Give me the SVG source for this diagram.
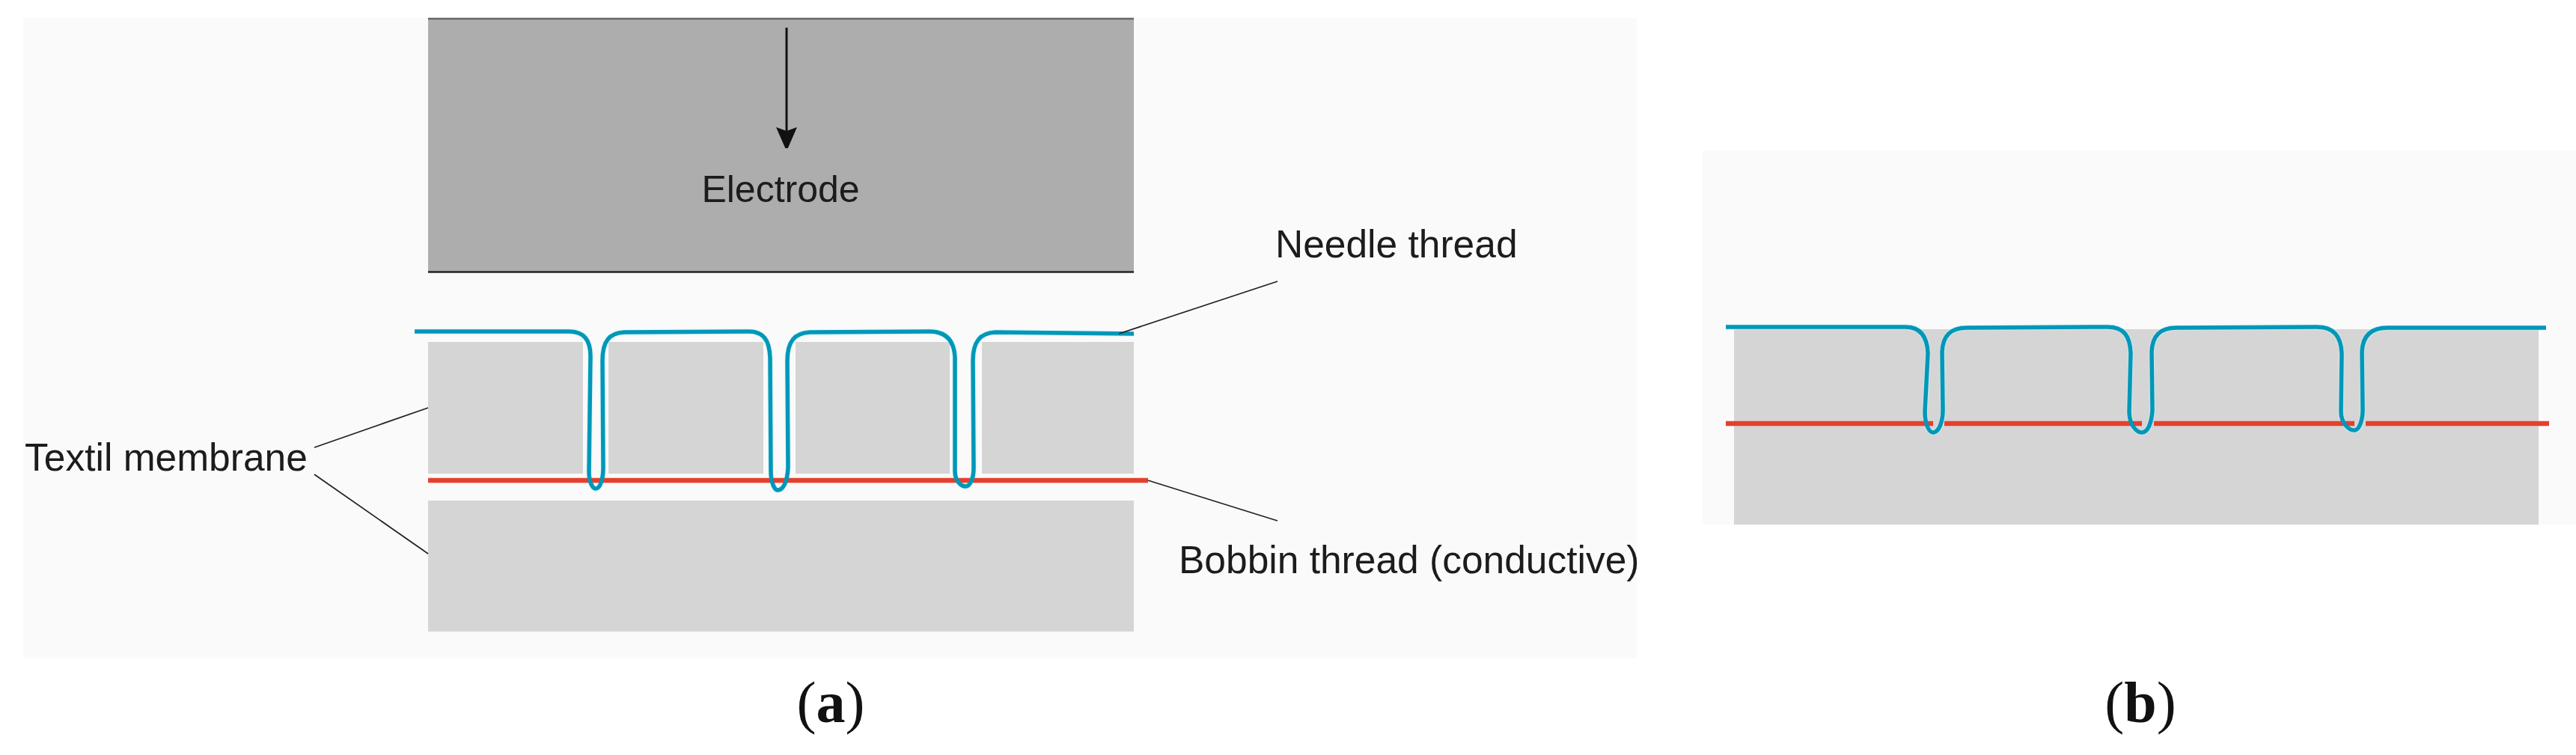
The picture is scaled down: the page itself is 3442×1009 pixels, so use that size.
<svg xmlns="http://www.w3.org/2000/svg" width="3442" height="1009" viewBox="0 0 3442 1009">
<style>
.panel{fill:#fafafa}
.mem{fill:#d5d5d5}
.lbl{font-family:"Liberation Sans",Arial,sans-serif;font-size:51.500px;fill:#1c1c1c}
.cap{font-family:"Liberation Serif","Times New Roman",serif;font-size:78px;fill:#111;text-anchor:middle}
.cap tspan{font-weight:bold}
.blue{fill:none;stroke:#0097b8;stroke-width:5.500;stroke-linejoin:round}
.halo{fill:none;stroke:#c8f4fc;stroke-width:8;stroke-linejoin:round}
.red{fill:none;stroke:#e5402e;stroke-width:6.500}
.lead{fill:none;stroke:#222;stroke-width:1.800}
</style>
<defs>
<marker id="ah" markerUnits="userSpaceOnUse" markerWidth="28" markerHeight="34" refX="28" refY="14" orient="auto">
<path d="M0 0L32 14L0 28L5 14Z" fill="#111"/>
</marker>
<path id="needleA" d="M554 443H760C780 443 789 454 789 476L787 630C787 645 792 653 796 653C802 653 806 640 806 625L805 482C805 456 814 445 834 444L1000 443C1020 443 1028 454 1029 478L1030 630C1030 645 1035 655 1039 655C1046 655 1052 645 1053 625L1052 482C1052 456 1062 445 1082 444L1242 443C1265 443 1275 456 1276 478L1276 630C1276 645 1286 650 1290 650C1296 650 1301 640 1301 625L1300 482C1300 456 1310 445 1330 444L1515 446"/>
<path id="needleB" d="M2306 437H2546C2565 437 2575 449 2576 472L2572 550C2572 568 2578 578 2583 578C2590 578 2596 565 2596 548L2595 470C2596 448 2607 438 2628 438L2816 437C2838 437 2846 449 2847 472L2845 550C2845 568 2855 578 2862 578C2870 578 2875 565 2876 548L2875 470C2876 448 2887 438 2908 438L3096 437C3118 437 3128 449 3129 472L3128 550C3128 565 3138 575 3146 575C3152 575 3157 562 3157 548L3156 470C3157 448 3169 438 3190 438L3402 438"/>
</defs>
<rect width="3442" height="1009" fill="#fff"/>
<g id="panel-a">
<rect class="panel" x="31" y="24" width="2156" height="856"/>
</g>
<g id="panel-b">
<rect class="panel" x="2275" y="201" width="1167" height="500"/>
</g>
<g id="electrode">
<rect x="572" y="24" width="943" height="340" fill="#adadad"/>
<path d="M572 25H1515" stroke="#666" stroke-width="2.500" fill="none"/>
<path d="M572 363.500H1515" stroke="#222" stroke-width="2.500" fill="none"/>
<text class="lbl" x="1043" y="270" text-anchor="middle" style="font-size:50px">Electrode</text>
</g>
<g id="membrane-a-top">
<rect class="mem" x="572" y="457" width="207" height="176"/>
<rect class="mem" x="813" y="457" width="207" height="176"/>
<rect class="mem" x="1063" y="457" width="206" height="176"/>
<rect class="mem" x="1312" y="457" width="203" height="176"/>
</g>
<g id="membrane-a-bottom">
<rect class="mem" x="572" y="669" width="943" height="175"/>
</g>
<g id="membrane-b">
<rect class="mem" x="2317" y="440" width="1075" height="261"/>
</g>
<g id="threads-a">
<use href="#needleA" class="halo" opacity=".5"/>
<path class="red" d="M572 642H1534"/>
<use href="#needleA" class="blue"/>
</g>
<g id="threads-b">
<use href="#needleB" class="halo" opacity=".5"/>
<path class="red" d="M2306 566H2583M2598 566H2862M2878 566H3146M3161 566H3406"/>
<use href="#needleB" class="blue"/>
</g>
<g id="connectors">
<path d="M1051 37V198" fill="none" stroke="#111" stroke-width="3" marker-end="url(#ah)"/>
<path class="lead" d="M1495 446L1707 376"/>
<path class="lead" d="M1534 642L1707 696"/>
<path class="lead" d="M420 598L572 545"/>
<path class="lead" d="M420 634L572 740"/>
</g>
<g id="label-textil"><text class="lbl" x="33" y="629">Textil membrane</text></g>
<g id="label-needle"><text class="lbl" x="1704" y="344">Needle thread</text></g>
<g id="label-bobbin"><text class="lbl" x="1575" y="766">Bobbin thread (conductive)</text></g>
<g id="caption-a"><text class="cap" x="1110" y="965">(<tspan>a</tspan>)</text></g>
<g id="caption-b"><text class="cap" x="2860" y="965">(<tspan>b</tspan>)</text></g>
</svg>
